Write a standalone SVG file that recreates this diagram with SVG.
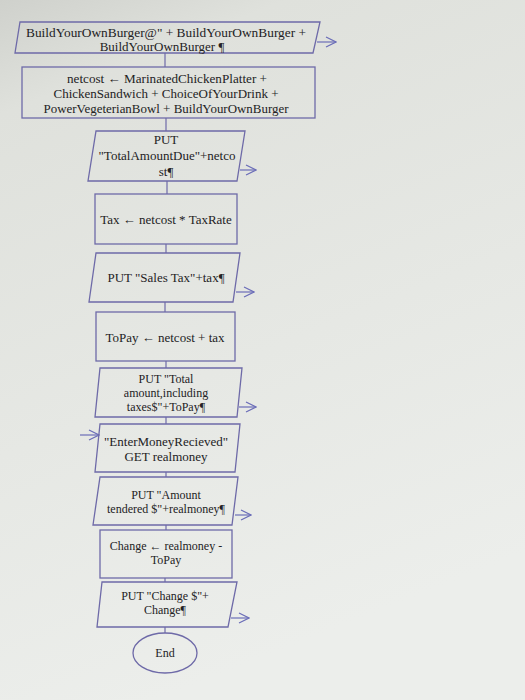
<svg xmlns="http://www.w3.org/2000/svg" width="525" height="700" viewBox="0 0 525 700">
<defs>
<linearGradient id="bg" x1="0" y1="0" x2="0.3" y2="1">
<stop offset="0" stop-color="#cfd1cc"/>
<stop offset="0.15" stop-color="#dfe1dc"/>
<stop offset="0.6" stop-color="#e6e8e4"/>
<stop offset="1" stop-color="#eceeeb"/>
</linearGradient>
<marker id="open" viewBox="0 0 12 12" refX="11" refY="6" markerWidth="12" markerHeight="12" markerUnits="userSpaceOnUse" orient="auto">
<path d="M1,1 L11,6 L1,11" fill="none" stroke="#6b6db8" stroke-width="1.2"/>
</marker>
</defs>
<style>
.shape{fill:none;stroke:#6e6aa8;stroke-width:1.3}
.conn{stroke:#6e6aa8;stroke-width:1.2;fill:none}
.out{stroke:#6b6db8;stroke-width:1.2;fill:none}
text{font-family:"Liberation Serif","Times New Roman",serif;font-size:13px;fill:#232224;text-anchor:middle}
.sm{font-size:12px}
</style>
<rect width="525" height="700" fill="url(#bg)"/>

<g id="connectors">
<line class="conn" x1="165" y1="53" x2="165" y2="67"/>
<line class="conn" x1="166" y1="118" x2="166" y2="131"/>
<line class="conn" x1="167" y1="181" x2="167" y2="194"/>
<line class="conn" x1="166" y1="244" x2="166" y2="253"/>
<line class="conn" x1="165" y1="302" x2="165" y2="312"/>
<line class="conn" x1="166" y1="361" x2="166" y2="368"/>
<line class="conn" x1="166" y1="417" x2="166" y2="424"/>
<line class="conn" x1="166" y1="472" x2="166" y2="477"/>
<line class="conn" x1="166" y1="525" x2="166" y2="530"/>
<line class="conn" x1="165" y1="578" x2="165" y2="582"/>
<line class="conn" x1="165" y1="627" x2="165" y2="633"/>
<line class="out" x1="317" y1="42" x2="336" y2="42" marker-end="url(#open)"/>
<line class="out" x1="240" y1="170" x2="256" y2="170" marker-end="url(#open)"/>
<line class="out" x1="236" y1="292" x2="254" y2="292" marker-end="url(#open)"/>
<line class="out" x1="239" y1="407" x2="256" y2="407" marker-end="url(#open)"/>
<line class="out" x1="80" y1="435" x2="99" y2="435" marker-end="url(#open)"/>
<line class="out" x1="235" y1="515" x2="251" y2="515" marker-end="url(#open)"/>
<line class="out" x1="231" y1="618" x2="249" y2="618" marker-end="url(#open)"/>
</g>

<g id="n1">
<polygon class="shape" points="20,22 320,22 313,53 15,53"/>
<text x="166" y="37" textLength="280" lengthAdjust="spacingAndGlyphs">BuildYourOwnBurger@" + BuildYourOwnBurger  +</text>
<text x="162" y="51">BuildYourOwnBurger ¶</text>
</g>

<g id="n2">
<rect class="shape" x="22" y="67" width="293" height="51"/>
<text x="167" y="83" textLength="200" lengthAdjust="spacingAndGlyphs">netcost ← MarinatedChickenPlatter +</text>
<text x="166" y="98" textLength="225" lengthAdjust="spacingAndGlyphs">ChickenSandwich + ChoiceOfYourDrink +</text>
<text x="166" y="113" textLength="245" lengthAdjust="spacingAndGlyphs">PowerVegeterianBowl + BuildYourOwnBurger</text>
</g>

<g id="n3">
<polygon class="shape" points="96,131 245,131 237,181 88,181"/>
<text x="166" y="144">PUT</text>
<text x="167" y="160">"TotalAmountDue"+netco</text>
<text x="166" y="176">st¶</text>
</g>

<g id="n4">
<rect class="shape" x="95" y="194" width="142" height="50"/>
<text x="166" y="224">Tax ← netcost * TaxRate</text>
</g>

<g id="n5">
<polygon class="shape" points="96,253 240,253 233,302 89,302"/>
<text x="166" y="282">PUT "Sales Tax"+tax¶</text>
</g>

<g id="n6">
<rect class="shape" x="96" y="312" width="139" height="49"/>
<text x="165" y="342">ToPay ← netcost + tax</text>
</g>

<g id="n7">
<polygon class="shape" points="100,368 242,368 237,417 95,417"/>
<text class="sm" x="166" y="383">PUT "Total</text>
<text class="sm" x="166" y="397">amount,including</text>
<text class="sm" x="166" y="411">taxes$"+ToPay¶</text>
</g>

<g id="n8">
<polygon class="shape" points="100,424 240,424 235,472 95,472"/>
<text x="166" y="446">"EnterMoneyRecieved"</text>
<text x="166" y="461">GET realmoney</text>
</g>

<g id="n9">
<polygon class="shape" points="100,477 238,477 232,525 93,525"/>
<text class="sm" x="166" y="499">PUT "Amount</text>
<text class="sm" x="166" y="513">tendered $"+realmoney¶</text>
</g>

<g id="n10">
<rect class="shape" x="100" y="530" width="132" height="48"/>
<text class="sm" x="166" y="550">Change ← realmoney  -</text>
<text class="sm" x="166" y="564">ToPay</text>
</g>

<g id="n11">
<polygon class="shape" points="102,582 237,582 228,627 97,627"/>
<text class="sm" x="165" y="600">PUT "Change $"+</text>
<text class="sm" x="165" y="614">Change¶</text>
</g>

<g id="n12">
<ellipse class="shape" cx="165" cy="653" rx="32" ry="20"/>
<text class="sm" x="165" y="657">End</text>
</g>
</svg>
